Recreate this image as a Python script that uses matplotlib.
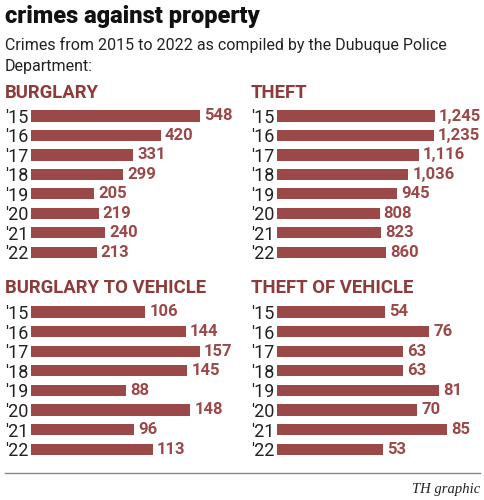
import matplotlib.pyplot as plt
from matplotlib.lines import Line2D

# data
years = ["'15", "'16", "'17", "'18", "'19", "'20", "'21", "'22"]
burglary = [548, 420, 331, 299, 205, 219, 240, 213]
theft = [1245, 1235, 1116, 1036, 945, 808, 823, 860]
burglary_vehicle = [106, 144, 157, 145, 88, 148, 96, 113]
theft_vehicle = [54, 76, 63, 63, 81, 70, 85, 53]

W, H = 485, 500
bar_color = '#9b4848'
head_color = '#8e3b3b'
plt.rcParams['font.family'] = ['Roboto', 'DejaVu Sans']

fig = plt.figure(figsize=(W / 100, H / 100), dpi=100)


def px_axes(left, top, right, bottom):
    return fig.add_axes([left / W, 1 - bottom / H, (right - left) / W, (bottom - top) / H])


def panel(title, values, left, bar_end, top_row, step, head_y):
    top = top_row - step / 2
    bottom = top_row + step * 7.5
    ax = px_axes(left, top, bar_end, bottom)
    ax.barh(range(len(values)), values, height=0.58, color=bar_color)
    ax.set_xlim(0, max(values))
    ax.set_ylim(7.5, -0.5)
    ax.set_yticks(range(len(years)))
    ax.set_yticklabels(years, fontsize=13, color='#222222')
    ax.tick_params(axis='y', length=0, pad=2)
    ax.set_xticks([])
    for s in ax.spines.values():
        s.set_visible(False)
    ax.patch.set_alpha(0)
    for i, v in enumerate(values):
        ax.annotate(f'{v:,}', (v, i), xytext=(3, 0), textcoords='offset points',
                    va='center', ha='left', fontsize=12, fontweight='bold',
                    color=bar_color)
    fig.text((left - 26) / W, 1 - head_y / H, title, fontsize=13.3, fontweight='bold',
             color=head_color, va='center', ha='left')


panel('BURGLARY', burglary, 31, 200, 116, 19.45, 93)
panel('THEFT', theft, 277, 435, 116, 19.45, 93)
panel('BURGLARY TO VEHICLE', burglary_vehicle, 31, 200, 312, 19.6, 288)
panel('THEFT OF VEHICLE', theft_vehicle, 277, 447, 312, 19.6, 288)

fig.text(5 / W, 1 - 17 / H, 'crimes against property', fontsize=17, fontweight=900,
         color='#111111', va='center', ha='left')
fig.text(5 / W, 1 - 45 / H, 'Crimes from 2015 to 2022 as compiled by the Dubuque Police',
         fontsize=11.5, color='#222222', va='center', ha='left')
fig.text(5 / W, 1 - 66 / H, 'Department:', fontsize=11.5, color='#222222',
         va='center', ha='left')

fig.add_artist(Line2D([5 / W, 480 / W], [1 - 473 / H, 1 - 473 / H], color='#888888', lw=1))
fig.text(480 / W, 1 - 490 / H, 'TH graphic', fontsize=10.5, style='italic',
         family='Liberation Serif', color='#222222', va='center', ha='right')

fig.savefig('out.png', dpi=100)
